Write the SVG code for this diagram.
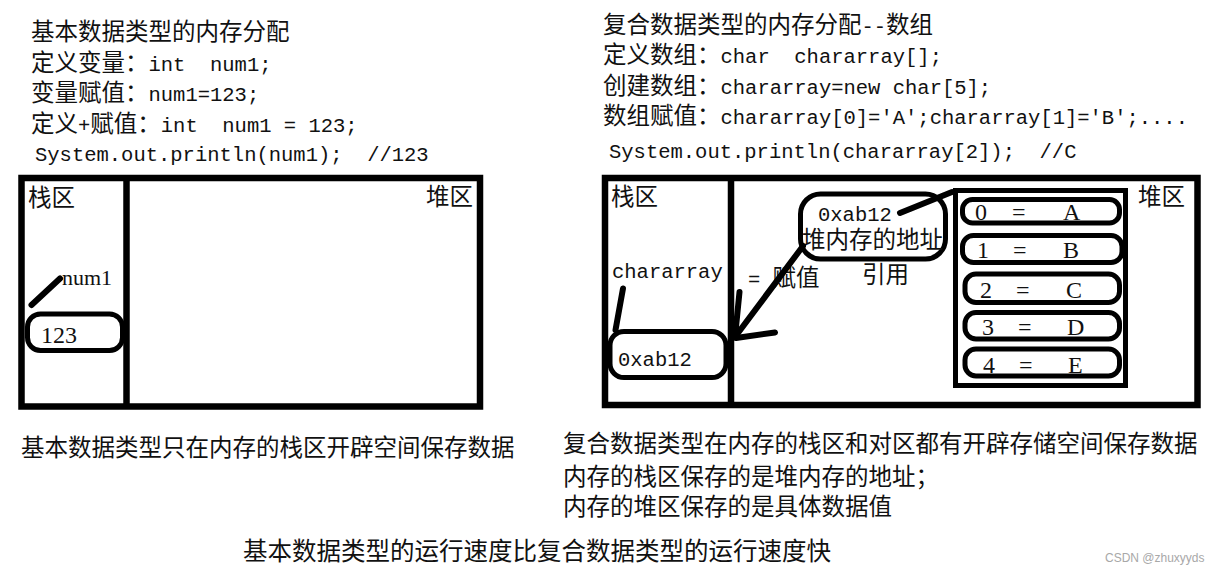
<svg xmlns="http://www.w3.org/2000/svg" width="1225" height="575" viewBox="0 0 1225 575">
<style>
.cj{font-family:"Noto Sans CJK SC","Noto Sans CJK JP",sans-serif;font-size:23.5px;fill:#111}
.la{font-family:"Liberation Mono","DejaVu Sans Mono",monospace;font-size:20.5px;fill:#111}
.sv{font-family:"Liberation Serif","DejaVu Serif",serif;font-size:24px;fill:#111}
.frame{fill:none;stroke:#000;stroke-width:6.5}
.box{fill:none;stroke:#000;stroke-width:5}
.con{fill:none;stroke:#000;stroke-width:6;stroke-linecap:round;stroke-linejoin:round}
.wm{font-family:"Liberation Sans",Arial,sans-serif;font-size:12px;fill:#a8a8a8}
</style>
<rect width="1225" height="575" fill="#fff"/>

<g id="left-code">
<text class="cj" x="31" y="40">基本数据类型的内存分配</text>
<text x="31" y="71" xml:space="preserve"><tspan class="cj">定义变量：</tspan><tspan class="la">int  num1;</tspan></text>
<text x="31" y="101" xml:space="preserve"><tspan class="cj">变量赋值：</tspan><tspan class="la">num1=123;</tspan></text>
<text x="31" y="132" xml:space="preserve"><tspan class="cj">定义</tspan><tspan class="la">+</tspan><tspan class="cj">赋值：</tspan><tspan class="la">int  num1 = 123;</tspan></text>
<text class="la" x="35" y="161" xml:space="preserve">System.out.println(num1);  //123</text>
</g>

<g id="right-code">
<text x="603" y="33" xml:space="preserve"><tspan class="cj">复合数据类型的内存分配</tspan><tspan class="la">--</tspan><tspan class="cj">数组</tspan></text>
<text x="603" y="63" xml:space="preserve"><tspan class="cj">定义数组：</tspan><tspan class="la">char  chararray[];</tspan></text>
<text x="603" y="94" xml:space="preserve"><tspan class="cj">创建数组：</tspan><tspan class="la">chararray=new char[5];</tspan></text>
<text x="603" y="124" xml:space="preserve"><tspan class="cj">数组赋值：</tspan><tspan class="la">chararray[0]='A';chararray[1]='B';....</tspan></text>
<text class="la" x="609" y="158" xml:space="preserve">System.out.println(chararray[2]);  //C</text>
</g>

<g id="left-memory">
<rect class="frame" x="21.5" y="178" width="458.5" height="228.5"/>
<line class="frame" x1="126.5" y1="178" x2="126.5" y2="406.5"/>
<text class="cj" x="28" y="206">栈区</text>
<text class="cj" x="426" y="205">堆区</text>
</g>

<g id="num1-node">
<rect class="box" x="27.5" y="314" width="95" height="36.5" rx="13"/>
<text class="sv" x="62" y="285" style="font-size:22px">num1</text>
<text class="sv" x="41" y="343">123</text>
</g>

<g id="right-memory">
<rect class="frame" x="605" y="178" width="592.5" height="227"/>
<line class="frame" x1="731" y1="178" x2="731" y2="405"/>
<text class="cj" x="611" y="205">栈区</text>
<text class="cj" x="1138" y="205">堆区</text>
</g>

<g id="chararray-node">
<text class="la" x="612" y="278">chararray</text>
<rect class="box" x="610" y="331.5" width="116" height="46" rx="14"/>
<text class="la" x="618" y="366">0xab12</text>
</g>

<g id="address-node">
<rect class="box" x="800.5" y="194" width="145" height="65" rx="20"/>
<text class="la" x="818" y="221">0xab12</text>
<text class="cj" x="802" y="248">堆内存的地址</text>
</g>

<g id="labels">
<text x="748" y="286" xml:space="preserve"><tspan class="la">= </tspan><tspan class="cj">赋值</tspan></text>
<text class="cj" x="862" y="283">引用</text>
</g>

<g id="heap-array">
<rect class="box" x="955.5" y="190.5" width="170" height="195"/>
<rect class="box" x="962.5" y="199.5" width="157" height="23.5" rx="10"/>
<rect class="box" x="962.5" y="235.5" width="159.5" height="27" rx="11"/>
<rect class="box" x="965" y="274" width="154.5" height="28.5" rx="11"/>
<rect class="box" x="965" y="312.5" width="154.5" height="26.5" rx="11"/>
<rect class="box" x="965" y="349" width="154.5" height="27" rx="11"/>
<text class="sv" x="975" y="220">0</text><text class="sv" x="1012" y="220">=</text><text class="sv" x="1063" y="220">A</text>
<text class="sv" x="977" y="258">1</text><text class="sv" x="1013" y="258">=</text><text class="sv" x="1063" y="258">B</text>
<text class="sv" x="980" y="298">2</text><text class="sv" x="1016" y="298">=</text><text class="sv" x="1066" y="298">C</text>
<text class="sv" x="982" y="335">3</text><text class="sv" x="1018" y="335">=</text><text class="sv" x="1067" y="335">D</text>
<text class="sv" x="983" y="373">4</text><text class="sv" x="1019" y="373">=</text><text class="sv" x="1068" y="373">E</text>
</g>

<g id="connectors">
<line class="con" x1="31.5" y1="305" x2="60" y2="278.5"/>
<line class="con" x1="623" y1="288.5" x2="615.5" y2="330"/>
<line class="con" x1="803" y1="246" x2="735" y2="337"/>
<line class="con" x1="739.5" y1="292" x2="735" y2="337"/>
<line class="con" x1="775" y1="332.5" x2="736" y2="338"/>
<line class="con" x1="900" y1="213" x2="952" y2="192"/>
</g>

<g id="notes">
<text class="cj" x="21" y="456">基本数据类型只在内存的栈区开辟空间保存数据</text>
<text class="cj" x="563" y="452">复合数据类型在内存的栈区和对区都有开辟存储空间保存数据</text>
<text class="cj" x="563" y="485">内存的栈区保存的是堆内存的地址；</text>
<text class="cj" x="563" y="515">内存的堆区保存的是具体数据值</text>
<text class="cj" x="243" y="560" style="font-size:24.5px">基本数据类型的运行速度比复合数据类型的运行速度快</text>
<text class="wm" x="1105" y="562">CSDN @zhuxyyds</text>
</g>
</svg>
